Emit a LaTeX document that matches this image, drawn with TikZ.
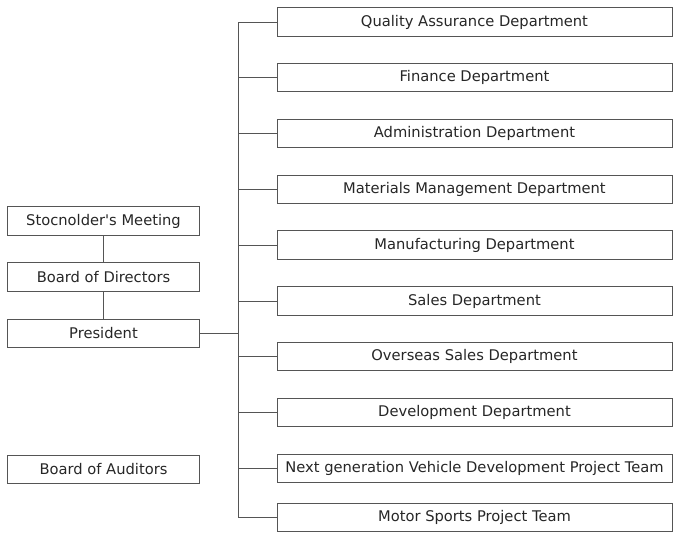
\documentclass[tikz,border=0pt]{standalone}
\usepackage{fontspec}
\setmainfont{DejaVu Sans}[Ligatures=TeXOff]
\definecolor{boxline}{HTML}{555555}
\definecolor{txt}{HTML}{262626}
\begin{document}
\begin{tikzpicture}[x=1pt,y=-1pt,
  box/.style={draw=boxline,line width=1pt,minimum height=28.5pt,inner sep=0pt,text=txt,font=\fontsize{14.7}{17}\selectfont},
  rbox/.style={box,minimum width=395pt},
  lbox/.style={box,minimum width=192pt},
  conn/.style={draw=boxline,line width=1pt}]
\useasboundingbox (0,0) rectangle (680,539);
\node[lbox] (sm) at (103.5,221) {Stocnolder's Meeting};
\node[lbox] (bd) at (103.5,277) {Board of Directors};
\node[lbox] (pr) at (103.5,333.5) {President};
\node[lbox] (ba) at (103.5,469.5) {Board of Auditors};
\node[rbox] (d1) at (474.5,22) {Quality Assurance Department};
\node[rbox] (d2) at (474.5,77.5) {Finance Department};
\node[rbox] (d3) at (474.5,133.5) {Administration Department};
\node[rbox] (d4) at (474.5,189.5) {Materials Management Department};
\node[rbox] (d5) at (474.5,245) {Manufacturing Department};
\node[rbox] (d6) at (474.5,301) {Sales Department};
\node[rbox] (d7) at (474.5,356.5) {Overseas Sales Department};
\node[rbox] (d8) at (474.5,412.5) {Development Department};
\node[rbox] (d9) at (474.5,468.5) {Next generation Vehicle Development Project Team};
\node[rbox] (d10) at (474.5,517.5) {Motor Sports Project Team};
\coordinate (bus) at (238,0);
\draw[conn] (sm) -- (bd);
\draw[conn] (bd) -- (pr);
\draw[conn] (pr.east) -- (pr.east -| bus);
\draw[conn] (d1.west) -- (d1.west -| bus) -- (d10.west -| bus) -- (d10.west);
\foreach \i in {2,...,9} {\draw[conn] (d\i.west) -- (d\i.west -| bus);}
\end{tikzpicture}
\end{document}
